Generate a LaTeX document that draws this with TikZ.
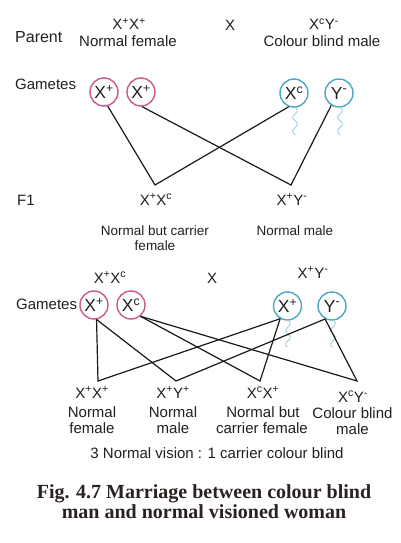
\documentclass[tikz,border=0pt]{standalone}
\usepackage{fontspec}
\setmainfont{Liberation Sans}
\newfontfamily\capfont{Liberation Serif}
\definecolor{pinkc}{HTML}{D2568E}
\definecolor{bluec}{HTML}{4BA7C2}
\definecolor{tailc}{HTML}{9ACFDF}
\definecolor{txt}{HTML}{231F20}
\definecolor{capc}{HTML}{2A2220}
\newcommand\gs[1]{\textsuperscript{#1}}
\begin{document}
\begin{tikzpicture}[x=1pt,y=-1pt,
  lbl/.style={anchor=base, inner sep=0pt, text=txt, font=\fontsize{15}{17}\selectfont},
  sml/.style={lbl, font=\fontsize{13.5}{15}\selectfont},
  lft/.style={lbl, anchor=base west},
  gam/.style={circle, minimum size=28pt, inner sep=0pt, line width=1.4pt, text=txt, font=\fontsize{17.5}{17.5}\selectfont},
  fem/.style={gam, draw=pinkc},
  mal/.style={gam, draw=bluec},
  link/.style={line width=1.2pt, draw=black!90},
  tailw/.style={draw=tailc, line width=0.9pt},
  capt/.style={anchor=base, inner sep=0pt, text=capc, font=\capfont\bfseries\fontsize{20}{20}\selectfont}]
\useasboundingbox (0,0) rectangle (401,543);
\fill[white] (0,0) rectangle (401,543);

% ---------- Parents ----------
\node[lft, font=\fontsize{16}{17}\selectfont] (par) at (15,42) {Parent};
\node[lbl] (p1) at (129,30) {X\gs{+}X\gs{+}};
\node[lbl] (p1d) at (128,47) {Normal female};
\node[lbl] (px) at (230,31) {X};
\node[lbl] (p2) at (324,30) {X\gs{c}Y\gs{-}};
\node[lbl] (p2d) at (322,47) {Colour blind male};

% ---------- Gametes 1 ----------
\node[lft] (gm1) at (15,89) {Gametes};
\node[fem] (g1) at (104,92) {X\gs{+}};
\node[fem] (g2) at (141,92) {X\gs{+}};
\node[mal] (m1) at (294,93) {X\gs{c}};
\node[mal] (m2) at (339,93) {Y\gs{-}};
\draw[tailw] plot[domain=0:28, samples=50, smooth] ({295+2.3*sin(\x*26)},{107+\x});
\draw[tailw] plot[domain=0:28, samples=50, smooth] ({340+2.3*sin(\x*26)},{107+\x});

\coordinate (a1) at (155,185);
\coordinate (a2) at (291,185);
\draw[link] (g1.-75) -- (a1) -- (m1.-111);
\draw[link] (g2.-86) -- (a2) -- (m2.-122);

% ---------- F1 ----------
\node[lft] (f1) at (17,205) {F1};
\node[lbl] (c1) at (156,205) {X\gs{+}X\gs{c}};
\node[lbl] (c2) at (292,205) {X\gs{+}Y\gs{-}};
\node[sml] (c1d) at (155,235) {Normal but carrier};
\node[sml] (c1e) at (155,250) {female};
\node[sml] (c2d) at (295,235) {Normal male};

% ---------- Second cross ----------
\node[lbl] (q1) at (110,283) {X\gs{+}X\gs{c}};
\node[lbl] (qx) at (212,283) {X};
\node[lbl] (q2) at (313,278) {X\gs{+}Y\gs{-}};

\node[lft] (gm2) at (16,309) {Gametes};
\node[fem] (h1) at (94,305) {X\gs{+}};
\node[fem] (h2) at (131,305) {X\gs{c}};
\node[mal] (n1) at (287.5,306) {X\gs{+}};
\node[mal] (n2) at (332,306) {Y\gs{-}};
\draw[tailw] plot[domain=0:27, samples=50, smooth] ({288+2.3*sin(\x*26)},{320+\x});
\draw[tailw] plot[domain=0:27, samples=50, smooth] ({333+2.3*sin(\x*26)},{320+\x});

\coordinate (b1) at (98,381);
\coordinate (b2) at (176,381);
\coordinate (b3) at (260,381);
\coordinate (b4) at (357,381);
\draw[link] (h1.-80) -- (b1) -- (n1.-120);
\draw[link] (h1.-80) -- (b2) -- (n2.-118);
\draw[link] (h2.-50) -- (b3) -- (n1.-120);
\draw[link] (h2.-50) -- (b4) -- (n2.-118);

% ---------- Offspring ----------
\node[lbl] (o1) at (92,398) {X\gs{+}X\gs{+}};
\node[lbl] (o2) at (173,398) {X\gs{+}Y\gs{+}};
\node[lbl] (o3) at (263,398) {X\gs{c}X\gs{+}};
\node[lbl] (o4) at (353,402) {X\gs{c}Y\gs{-}};
\node[lbl] (o1a) at (92,417) {Normal};
\node[lbl] (o1b) at (92,433) {female};
\node[lbl] (o2a) at (173,417) {Normal};
\node[lbl] (o2b) at (173,433) {male};
\node[lbl] (o3a) at (263,417) {Normal but};
\node[lbl] (o3b) at (262,433) {carrier female};
\node[lbl] (o4a) at (352.5,418) {Colour blind};
\node[lbl] (o4b) at (352.5,434) {male};
\node[lbl] (ratio) at (217,458) {3 Normal vision : 1 carrier colour blind};

% ---------- Caption ----------
\node[capt] (cap1) at (204,498) {Fig. 4.7 Marriage between colour blind};
\node[capt] (cap2) at (204,518) {man and normal visioned woman};
\end{tikzpicture}
\end{document}
